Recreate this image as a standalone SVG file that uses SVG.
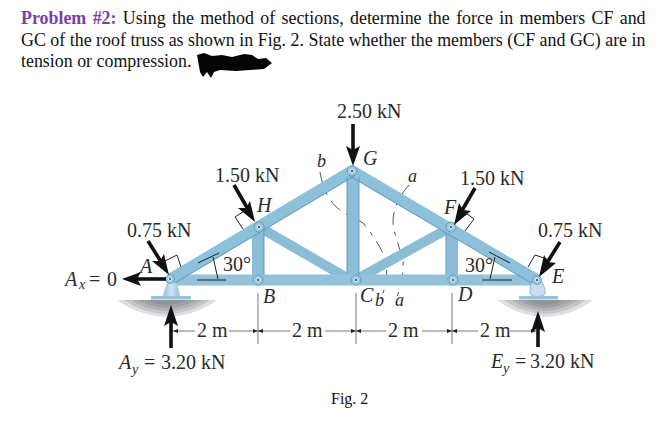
<svg xmlns="http://www.w3.org/2000/svg" width="661" height="425" viewBox="0 0 661 425">
<style>
.t{font-family:"Liberation Serif",serif;fill:#111}
.l{font-size:20px;fill:#2a2a2a}
.n{font-size:20px;font-style:italic;fill:#2a2a2a}
.c{font-size:18px;font-style:italic;fill:#2a2a2a}
.s{font-size:14px;font-style:italic;fill:#2a2a2a}
.h{font-size:17.9px}
.bar{stroke:#8bbdd7;fill:none}
.edge{stroke:#5a97b8;stroke-width:.9;fill:none}
.dim{stroke:#777;stroke-width:1;fill:none}
.cut{stroke:#444;stroke-width:.9;fill:none;stroke-dasharray:13 7 4 7}
.arrow{stroke:#111;stroke-width:3.6;fill:none}
.head{fill:#111}
.sq{stroke:#222;stroke-width:1;fill:none}
.ang{stroke:#222;stroke-width:1;fill:none}
.pinO{fill:#9cc8de;stroke:#5f93b2;stroke-width:.8}
.pinI{fill:#2f6f8f;stroke:#d8eef8;stroke-width:1}
.sh{fill:#5c6469;fill-opacity:.2}
</style>
<defs>
<linearGradient id="plate" x1="0" y1="0" x2="1" y2="0"><stop offset="0" stop-color="#8fc0da"/><stop offset=".5" stop-color="#cfe5f0"/><stop offset="1" stop-color="#8fc0da"/></linearGradient>
</defs>
<rect width="661" height="425" fill="#fff"/>
<g id="problem-text">
<text class="t h" x="21" y="24" word-spacing="1.9"><tspan font-weight="bold" fill="#7a3fa8">Problem #2:</tspan> Using the method of sections, determine the force in members CF and</text>
<text class="t h" x="21" y="46" word-spacing="0.02">GC of the roof truss as shown in Fig. 2. State whether the members (CF and GC) are in</text>
<text class="t h" x="21" y="67">tension or compression.</text>
<path d="M197 55L204 53L212 56L222 55L232 57L244 54L252 55L258 59L266 58L272 63L264 69L250 70L236 71L220 70L214 72L211 78L207 72L203 77L200 72Z" fill="#050505"/>
</g>
<g id="ground">
<path class="sh" d="M117 300H217Q195 316 167 317Q139 316 117 300Z"/>
<path class="sh" d="M124 300H210Q192 313 167 314Q142 313 124 300Z"/>
<path class="sh" d="M131 300H203Q188 310 167 311Q146 310 131 300Z"/>
<path class="sh" d="M138 300H196Q184 307 167 308Q150 307 138 300Z"/>
<path class="sh" d="M146 300H188Q180 304 167 305Q154 304 146 300Z"/>
<path class="sh" d="M497 300H593Q572 316 545 317Q518 316 497 300Z"/>
<path class="sh" d="M504 300H586Q568 313 545 314Q522 313 504 300Z"/>
<path class="sh" d="M511 300H579Q564 310 545 311Q526 310 511 300Z"/>
<path class="sh" d="M518 300H572Q560 307 545 308Q530 307 518 300Z"/>
<path class="sh" d="M526 300H564Q556 304 545 305Q534 304 526 300Z"/>
</g>
<g id="connectors">
<path class="dim" d="M258 293V344M356 293V344M452 293V344"/>
<path class="dim" d="M173 331H195M229 331H258M258 331H290M325 331H356M356 331H386M422 331H452M452 331H478M510 331H536"/>
<path d="M173 331l5-2v4zM258 331l-5-2v4zM258 331l5-2v4zM356 331l-5-2v4zM356 331l5-2v4zM452 331l-5-2v4zM452 331l5-2v4zM536 331l-5-2v4z" fill="#222"/>
<path class="cut" d="M320 172C323 190 330 203 340 210C350 218 358 219 363 223C373 235 383 250 386 262C388 275 386 288 380 300"/>
<path class="cut" d="M409 185C400 195 393 208 393 222C394 235 400 248 403 260C404 273 401 285 397 297"/>
</g>
<g id="truss">
<path class="bar" stroke-width="12" d="M258 227V280"/>
<path class="bar" stroke-width="12" d="M452 227V280"/>
<path class="bar" stroke-width="12" d="M353 171V280"/>
<path class="bar" stroke-width="10" d="M259 227L347 278"/>
<path class="bar" stroke-width="10" d="M451 227L359 278"/>
<path class="bar" stroke-width="11" d="M174 280H537" style="stroke:#93c2da"/>
<path class="bar" stroke-width="11.5" d="M171 279L352 171L537 280" stroke-linejoin="round" style="stroke:#8dc0da"/>
<path class="edge" d="M173.800 283.700L354.800 175.700M349.200 175.700L534.200 284.700"/>
<path class="edge" d="M264 227V275M446 233V275M359 177V275M347 177V274" stroke-width=".6"/>
</g>
<g id="support-A">
<path d="M167 282L177 283L180 296H163Z" fill="url(#plate)"/>
<rect x="151" y="296" width="40" height="3.500" fill="#98c3da"/>
</g>
<g id="support-E">
<path d="M532 282L542 282C545 288 546 292 544 295C540 297 534 297 531 295C529 291 530 287 532 282Z" fill="#c4deea" stroke="#6f9fbc" stroke-width=".7"/>
<rect x="519" y="296" width="39" height="3.500" fill="#98c3da"/>
</g>
<g id="joint-A"><circle class="pinO" cx="170" cy="279" r="4.500"/><circle class="pinI" cx="170" cy="279" r="1.700"/></g>
<g id="joint-H"><circle class="pinO" cx="259" cy="227" r="5"/><circle class="pinI" cx="259" cy="227" r="1.800"/></g>
<g id="joint-G"><circle class="pinO" cx="352" cy="171" r="5"/><circle class="pinI" cx="352" cy="171" r="1.800"/></g>
<g id="joint-F"><circle class="pinO" cx="451" cy="227" r="5"/><circle class="pinI" cx="451" cy="227" r="1.800"/></g>
<g id="joint-E"><circle class="pinO" cx="537" cy="280" r="4.500"/><circle class="pinI" cx="537" cy="280" r="1.700"/></g>
<g id="joint-B"><circle class="pinO" cx="258" cy="280" r="5"/><circle class="pinI" cx="258" cy="280" r="1.800"/></g>
<g id="joint-C"><circle class="pinO" cx="356" cy="280" r="5"/><circle class="pinI" cx="356" cy="280" r="1.800"/></g>
<g id="joint-D"><circle class="pinO" cx="453" cy="280" r="5"/><circle class="pinI" cx="453" cy="280" r="1.800"/></g>
<g id="loads">
<path class="arrow" d="M353 124V150"/><path class="head" d="M353 166L346 146L353 150L360 146Z"/>
<path class="arrow" d="M234 185L249 211"/><path class="head" d="M255 222L238 208L246 208L250 201Z"/>
<path class="arrow" d="M148 241L163 265"/><path class="head" d="M169 275L152 261L160 261L164 254Z"/>
<path class="arrow" d="M475 188L460 214"/><path class="head" d="M454 225L459 203L463 210L471 211Z"/>
<path class="arrow" d="M560 242L545 266"/><path class="head" d="M539 277L544 255L548 262L556 263Z"/>
<path class="arrow" d="M166 279H136"/><path class="head" d="M122 279L141 272L137 279L141 286Z"/>
<path class="arrow" d="M171 348V322"/><path class="head" d="M171 305L178 326L171 322L164 326Z"/>
<path class="arrow" d="M538 347V328"/><path class="head" d="M538 311L545 332L538 328L531 332Z"/>
<path class="sq" d="M163 262L177 255L181 267M243 229L235 217L246 210M465 231L474 219L463 211M528 267L535 255L547 259"/>
<path class="ang" d="M198 263L219 253M197 280H226M213 257L218 279"/>
<path class="ang" d="M489 252L510 263M482 280H512M495 257L490 279"/>
</g>
<g id="labels">
<text class="t l" x="337" y="118">2.50 kN</text>
<text class="t l" x="215" y="182">1.50 kN</text>
<text class="t l" x="127" y="237">0.75 kN</text>
<text class="t l" x="460" y="185">1.50 kN</text>
<text class="t l" x="538" y="237">0.75 kN</text>
<text class="t l" x="223" y="271">30°</text>
<text class="t l" x="465" y="272">30°</text>
<text class="t n" x="65" y="286">A</text><text class="t s" x="79" y="289">x</text><text class="t l" x="89" y="286">=</text><text class="t l" x="107" y="286">0</text>
<text class="t n" x="140" y="273">A</text>
<text class="t n" x="257" y="212">H</text>
<text class="t n" x="363" y="165">G</text>
<text class="t n" x="444" y="214">F</text>
<text class="t n" x="552" y="283">E</text>
<text class="t n" x="263" y="303">B</text>
<text class="t n" x="360" y="302">C</text>
<text class="t n" x="458" y="301">D</text>
<text class="t c" x="317" y="167">b</text>
<text class="t c" x="408" y="182">a</text>
<text class="t c" x="375" y="306">b</text>
<text class="t c" x="395" y="306">a</text>
<text class="t l" x="197" y="337">2 m</text>
<text class="t l" x="292" y="337">2 m</text>
<text class="t l" x="388" y="337">2 m</text>
<text class="t l" x="480" y="337">2 m</text>
<text class="t n" x="119" y="369">A</text><text class="t s" x="132" y="374">y</text><text class="t l" x="144" y="369">=</text><text class="t l" x="161" y="369">3.20 kN</text>
<text class="t n" x="491" y="368">E</text><text class="t s" x="503" y="373">y</text><text class="t l" x="515" y="368">=</text><text class="t l" x="530" y="368">3.20 kN</text>
<text class="t" font-size="16" x="331" y="404">Fig. 2</text>
</g>
</svg>
